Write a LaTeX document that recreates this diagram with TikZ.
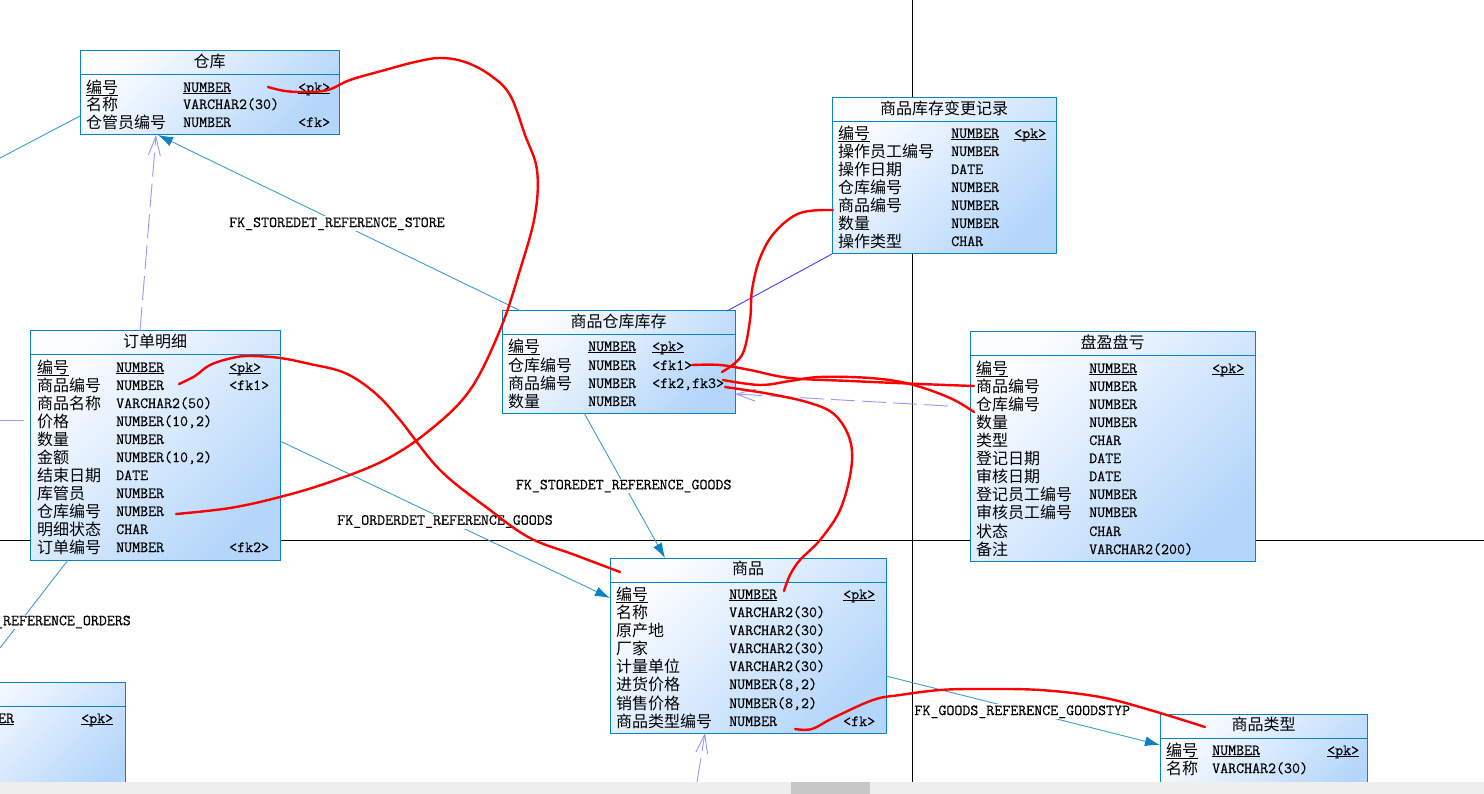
\documentclass[tikz,border=0pt]{standalone}
\usepackage{fontspec}
\setmonofont{Latin Modern Mono}[FakeBold=0.4]
\newfontfamily\cjk{Noto Sans CJK SC}
\usepackage{tikz}
\usetikzlibrary{arrows.meta,calc}
\definecolor{boxblue}{HTML}{0A82C4}
\definecolor{linkblue}{HTML}{3A9CCC}
\definecolor{dashblue}{HTML}{9696FF}
\definecolor{boxstart}{HTML}{FBFDFF}
\definecolor{boxend}{HTML}{B4D6FA}
\tikzstyle{entity} = [rectangle, draw=boxblue, line width=1pt, left color=boxstart, right color=boxend,
    shading angle=45, anchor=north west, inner sep=0pt, outer sep=0pt]
\tikzstyle{entitytitle} = [inner sep=0pt, font=\fontsize{16}{16}\selectfont\cjk]
\tikzstyle{cjkcell} = [anchor=base west, inner sep=0pt, font=\fontsize{16}{16}\selectfont\cjk]
\tikzstyle{ttcell} = [anchor=base west, inner sep=0pt, font=\fontsize{15.5}{16}\selectfont\ttfamily]
\tikzstyle{fklabel} = [fill=white, inner sep=1pt, yshift=-2pt, font=\fontsize{15.5}{16}\selectfont\ttfamily]
\tikzstyle{fkline} = [draw=linkblue, line width=0.9pt, -{Latex[length=15pt,width=10pt,color=boxblue]}]
\tikzstyle{plainline} = [draw=linkblue, line width=0.9pt]
\tikzstyle{dashline} = [draw=dashblue, line width=0.9pt, dash pattern=on 24pt off 7pt,
    -{Straight Barb[length=19pt,width=12pt]}]
\tikzstyle{redpen} = [draw=red, line width=2.4pt, line cap=round, line join=round]
\newcommand{\keyline}[1]{\underline{\smash{#1}}}
% box with its header rule and title
\newcommand{\entity}[6]{
    \node[entity, minimum width=#4pt, minimum height=#5pt] (#1) at (#2,#3) {};
    \draw[draw=boxblue, line width=1pt] ([yshift=-24pt]#1.north west) -- ([yshift=-24pt]#1.north east);
    \node[entitytitle] (#1-title) at ($(#1.north)+(0,-10.5pt)$) {#6};
}
% rows: y / name / type / key
\newcommand{\entityrows}[5]{
    \foreach \y/\a/\b/\c [count=\i] in {#5} {
        \node[cjkcell] (#1-name\i) at (#2,\y+6.5) {\a};
        \node[ttcell] (#1-type\i) at (#3,\y+5) {\b};
        \node[ttcell] (#1-key\i) at (#4,\y+5) {\c};
    }
}
\begin{document}
\begin{tikzpicture}[x=1pt,y=-1pt]
    \useasboundingbox (0,0) rectangle (1484,794);
    % Page rules
    \draw[black, line width=0.9pt] (912,0) -- (912,782);
    \draw[black, line width=0.9pt] (0,540) -- (1484,540);
    % Place nodes
    \entity{store}{80}{51}{259}{84}{仓库}
    \entityrows{store}{86}{183}{298}{
        87/\keyline{编号}/\keyline{NUMBER}/\keyline{<pk>},
        104/名称/VARCHAR2(30)/,
        122/仓管员编号/NUMBER/<fk>}
    \entity{stocklog}{832}{98}{224}{156}{商品库存变更记录}
    \entityrows{stocklog}{838}{951}{1014}{
        133/\keyline{编号}/\keyline{NUMBER}/\keyline{<pk>},
        151/操作员工编号/NUMBER/,
        169/操作日期/DATE/,
        187/仓库编号/NUMBER/,
        205/商品编号/NUMBER/,
        223/数量/NUMBER/,
        241/操作类型/CHAR/}
    \entity{orderdet}{30}{331}{250}{229}{订单明细}
    \entityrows{orderdet}{37}{116}{229}{
        367/\keyline{编号}/\keyline{NUMBER}/\keyline{<pk>},
        385/商品编号/NUMBER/<fk1>,
        403/商品名称/VARCHAR2(50)/,
        421/价格/{NUMBER(10,2)}/,
        439/数量/NUMBER/,
        457/金额/{NUMBER(10,2)}/,
        475/结束日期/DATE/,
        493/库管员/NUMBER/,
        511/仓库编号/NUMBER/,
        529/明细状态/CHAR/,
        547/订单编号/NUMBER/<fk2>}
    \entity{storedet}{502}{311}{233}{102}{商品仓库库存}
    \entityrows{storedet}{508}{588}{652}{
        346/\keyline{编号}/\keyline{NUMBER}/\keyline{<pk>},
        365/仓库编号/NUMBER/<fk1>,
        383/商品编号/NUMBER/{<fk2,fk3>},
        401/数量/NUMBER/}
    \entity{check}{970}{332}{285}{229}{盘盈盘亏}
    \entityrows{check}{976}{1089}{1212}{
        368/\keyline{编号}/\keyline{NUMBER}/\keyline{<pk>},
        386/商品编号/NUMBER/,
        404/仓库编号/NUMBER/,
        422/数量/NUMBER/,
        440/类型/CHAR/,
        458/登记日期/DATE/,
        476/审核日期/DATE/,
        494/登记员工编号/NUMBER/,
        512/审核员工编号/NUMBER/,
        531/状态/CHAR/,
        549/备注/VARCHAR2(200)/}
    \entity{goods}{610}{558}{276}{175}{商品}
    \entityrows{goods}{616}{729}{843}{
        594/\keyline{编号}/\keyline{NUMBER}/\keyline{<pk>},
        612/名称/VARCHAR2(30)/,
        630/原产地/VARCHAR2(30)/,
        648/厂家/VARCHAR2(30)/,
        666/计量单位/VARCHAR2(30)/,
        684/进货价格/{NUMBER(8,2)}/,
        703/销售价格/{NUMBER(8,2)}/,
        721/商品类型编号/NUMBER/<fk>}
    \entity{goodstype}{1160}{714}{207}{90}{商品类型}
    \entityrows{goodstype}{1166}{1212}{1327}{
        750/\keyline{编号}/\keyline{NUMBER}/\keyline{<pk>},
        768/名称/VARCHAR2(30)/}
    \entity{orders}{-60}{682}{185}{120}{}
    \entityrows{orders}{-60}{-34}{81}{
        718//\keyline{NUMBER}/\keyline{<pk>}}
    % Draw edges
    \coordinate (storeout) at (0,158);
    \coordinate (ordersout) at (0,648);
    \coordinate (dashleft) at (0,420);
    \coordinate (dashbottom) at (697,782);
    \path[plainline] ([yshift=19pt]store.south west) -- (storeout);
    \path[dashline] ([xshift=110pt]orderdet.north west) -- ([xshift=76pt]store.south west);
    \path[fkline] ([xshift=19pt]storedet.north west) -- node[fklabel, pos=0.507] (storelabel) {FK\_STOREDET\_REFERENCE\_STORE} ([xshift=78pt]store.south west);
    \path[draw=blue!75!white, line width=0.9pt] (stocklog.south west) -- ([xshift=225pt]storedet.north west);
    \path[fkline] ([xshift=82pt]storedet.south west) -- node[fklabel, pos=0.49] (goodslabel) {FK\_STOREDET\_REFERENCE\_GOODS} ([xshift=55pt]goods.north west);
    \path[fkline] ([yshift=-110pt]orderdet.north east) -- node[fklabel, pos=0.5] (orderlabel) {FK\_ORDERDET\_REFERENCE\_GOODS} ([yshift=-40pt]goods.north west);
    \path[plainline] ([xshift=38pt]orderdet.south west) -- (ordersout);
    \node[fklabel, anchor=east] (orderslabel) at (132,620) {\_REFERENCE\_ORDERS};
    \path[dashline] ([yshift=-74pt,xshift=-22pt]check.north west) -- ([yshift=19pt]storedet.south east);
    \path[draw=dashblue, line width=0.9pt, dash pattern=on 24pt off 7pt] (dashleft) -- ([yshift=-89pt]orderdet.north west);
    \path[dashline] (dashbottom) -- ([xshift=95pt]goods.south west);
    \path[fkline] ([yshift=-118pt]goods.north east) -- node[fklabel, pos=0.49, xshift=2pt] (typelabel) {FK\_GOODS\_REFERENCE\_GOODSTYP} ([yshift=-31pt]goodstype.north west);
    % Red marks
    \draw[redpen] plot[smooth,tension=0.6] coordinates {(268,87) (285,91) (305,92) (328,90) (350,80) (385,70) (415,62) (440,58) (465,62) (490,75) (510,95) (525,135) (537,170) (535,215) (520,270) (500,330) (470,390) (430,430) (385,460) (330,482) (280,497) (230,508) (176,514)};
    \draw[redpen] plot[smooth,tension=0.6] coordinates {(179,384) (195,376) (210,365) (232,358) (250,356) (280,358) (310,364) (345,373) (375,393) (400,420) (440,470) (490,510) (530,538) (575,555) (620,572)};
    \draw[redpen] plot[smooth,tension=0.6] coordinates {(833,210) (800,213) (775,232) (760,258) (752,290) (750,320) (742,355) (722,372)};
    \draw[redpen] plot[smooth,tension=0.6] coordinates {(692,365) (720,365) (750,370) (790,378) (850,381) (920,384) (974,386)};
    \draw[redpen] plot[smooth,tension=0.6] coordinates {(723,380) (760,385) (790,381) (820,377) (870,378) (910,384) (950,398) (974,412)};
    \draw[redpen] plot[smooth,tension=0.6] coordinates {(725,387) (770,394) (810,403) (835,415) (850,440) (851,470) (840,510) (820,540) (800,560) (790,575) (784,591)};
    \draw[redpen] plot[smooth,tension=0.6] coordinates {(795,729) (812,729) (833,718) (873,700) (900,695) (940,690) (980,689) (1040,690) (1100,697) (1150,710) (1205,727)};
    % Scroll bar
    \fill[black!6.5] (0,782) rectangle (1484,794);
    \fill[black!22] (791,782) rectangle (870,794);
\end{tikzpicture}
\end{document}
